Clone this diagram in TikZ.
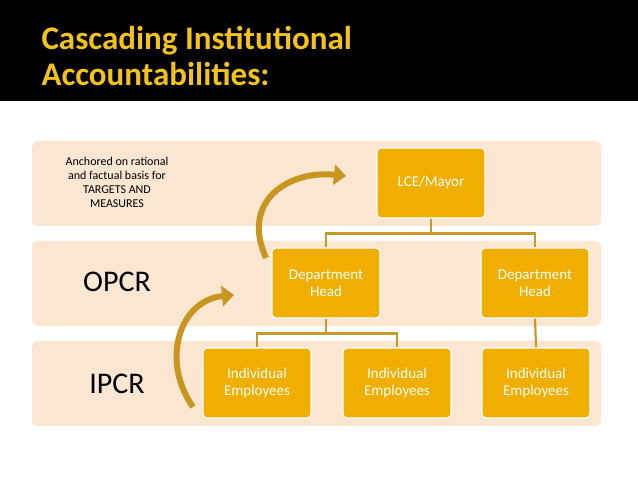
\documentclass[tikz,border=0pt]{standalone}
\usepackage{fontspec}
\setmainfont{Carlito}
\usetikzlibrary{arrows.meta}
\definecolor{band}{HTML}{FBE6D2}
\definecolor{boxc}{HTML}{F0AE00}
\definecolor{linec}{HTML}{C89A2A}
\definecolor{title}{HTML}{F5C21A}
\definecolor{arr}{HTML}{C8961E}
\tikzset{
  bandbox/.style={fill=band,draw=none,rounded corners=6pt},
  orgbox/.style={fill=boxc,draw=white,line width=1.2pt,rounded corners=4pt,minimum width=108pt,minimum height=70pt,text=white,font=\fontsize{15}{17}\selectfont,align=center},
  conn/.style={draw=linec,line width=2.2pt},
  bigarrow/.style={draw=arr,line width=6pt,-{Triangle[length=12pt,width=20pt]}},
}
\begin{document}
\begin{tikzpicture}[x=1pt,y=-1pt]
\useasboundingbox (0,0) rectangle (638,478);
\fill[white] (0,0) rectangle (638,478);
\fill[black] (0,0) rectangle (638,101);
\node[anchor=west,text=title,font=\bfseries\fontsize{33}{36}\selectfont,align=left] (t) at (38,56) {Cascading Institutional\\Accountabilities:};
\fill[bandbox] (32,141) rectangle (601,226);
\fill[bandbox] (32,241) rectangle (601,326);
\fill[bandbox] (32,341) rectangle (601,426);
\node[align=center,font=\fontsize{12}{14}\selectfont] (anc) at (117,182) {Anchored on rational\\and factual basis for\\TARGETS AND\\MEASURES};
\node[font=\fontsize{30}{32}\selectfont] (op) at (117,282) {OPCR};
\node[font=\fontsize{30}{32}\selectfont] (ip) at (117,384) {IPCR};
\node[orgbox] (lce) at (431,183) {LCE/Mayor};
\node[orgbox] (d1) at (326,283) {Department\\Head};
\node[orgbox] (d2) at (535,283) {Department\\Head};
\node[orgbox] (e1) at (257,383) {Individual\\Employees};
\node[orgbox] (e2) at (397,383) {Individual\\Employees};
\node[orgbox] (e3) at (536,383) {Individual\\Employees};
\draw[conn] (lce.south) -- ++(0,15) -| (d1.north);
\draw[conn] (lce.south) ++(0,15) -| (d2.north);
\draw[conn] (d1.south) -- ++(0,15) -| (e1.north);
\draw[conn] (d1.south) ++(0,15) -| (e2.north);
\draw[conn] (d2.south) -- (e3.north);
\coordinate (a1s) at (266,258);
\coordinate (a1e) at (346,176);
\coordinate (a2s) at (193,407);
\coordinate (a2e) at (234,295);
\draw[bigarrow] (a1s) .. controls (240,200) and (290,170) .. (a1e);
\draw[bigarrow] (a2s) .. controls (160,360) and (180,300) .. (a2e);
\end{tikzpicture}
\end{document}
